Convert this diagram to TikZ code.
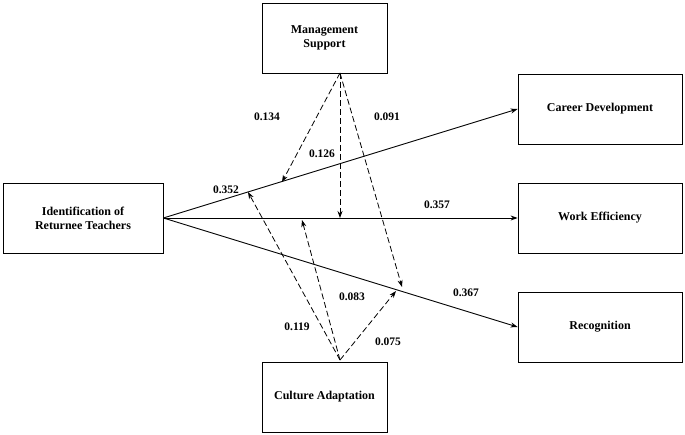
\documentclass[tikz,border=0pt]{standalone}
\usepackage{fontspec}
\setmainfont{Liberation Serif}
\usetikzlibrary{arrows.meta}
\begin{document}
\begin{tikzpicture}[x=1pt,y=-1pt,
 box/.style={draw,line width=0.8pt,minimum width=#1,minimum height=70pt,align=center,font=\bfseries\fontsize{12}{14}\selectfont,inner sep=0pt},
 lab/.style={font=\bfseries\fontsize{11.5}{13}\selectfont},
 sol/.style={line width=0.9pt,-{Stealth[length=7pt,width=5pt]}},
 dsh/.style={line width=0.8pt,dash pattern=on 6pt off 3pt,-{Stealth[length=7pt,width=5pt]}}]
\useasboundingbox (0,0) rectangle (685,435);
\node[box=125pt] (ms) at (324.5,38) {Management\\Support};
\node[box=160pt] (id) at (83,218) {Identification of\\Returnee Teachers};
\node[box=164pt] (cd) at (600,109) {Career Development};
\node[box=164pt] (we) at (600,218) {Work Efficiency};
\node[box=164pt] (rc) at (600,327) {Recognition};
\node[box=125pt] (ca) at (324.5,397) {Culture Adaptation};
\coordinate (mo) at (340,73);
\coordinate (co) at (340,360);
\coordinate (e1) at (282,182);
\coordinate (e2) at (340,218);
\coordinate (e3) at (402,287);
\coordinate (f1) at (248,192);
\coordinate (f2) at (302,220);
\coordinate (f3) at (396,291);
\draw[sol] (id.east) -- (cd.west);
\draw[sol] (id.east) -- (we.west);
\draw[sol] (id.east) -- (rc.west);
\draw[dsh] (mo) -- (e1);
\draw[dsh] (mo) -- (e2);
\draw[dsh] (mo) -- (e3);
\draw[dsh] (co) -- (f1);
\draw[dsh] (co) -- (f2);
\draw[dsh] (co) -- (f3);
\node[lab] (l1) at (267,117) {0.134};
\node[lab] (l2) at (387,117) {0.091};
\node[lab] (l3) at (322,154) {0.126};
\node[lab] (l4) at (226,190) {0.352};
\node[lab] (l5) at (437,205) {0.357};
\node[lab] (l6) at (466,293) {0.367};
\node[lab] (l7) at (352,297) {0.083};
\node[lab] (l8) at (297,327) {0.119};
\node[lab] (l9) at (388,342) {0.075};
\end{tikzpicture}
\end{document}
